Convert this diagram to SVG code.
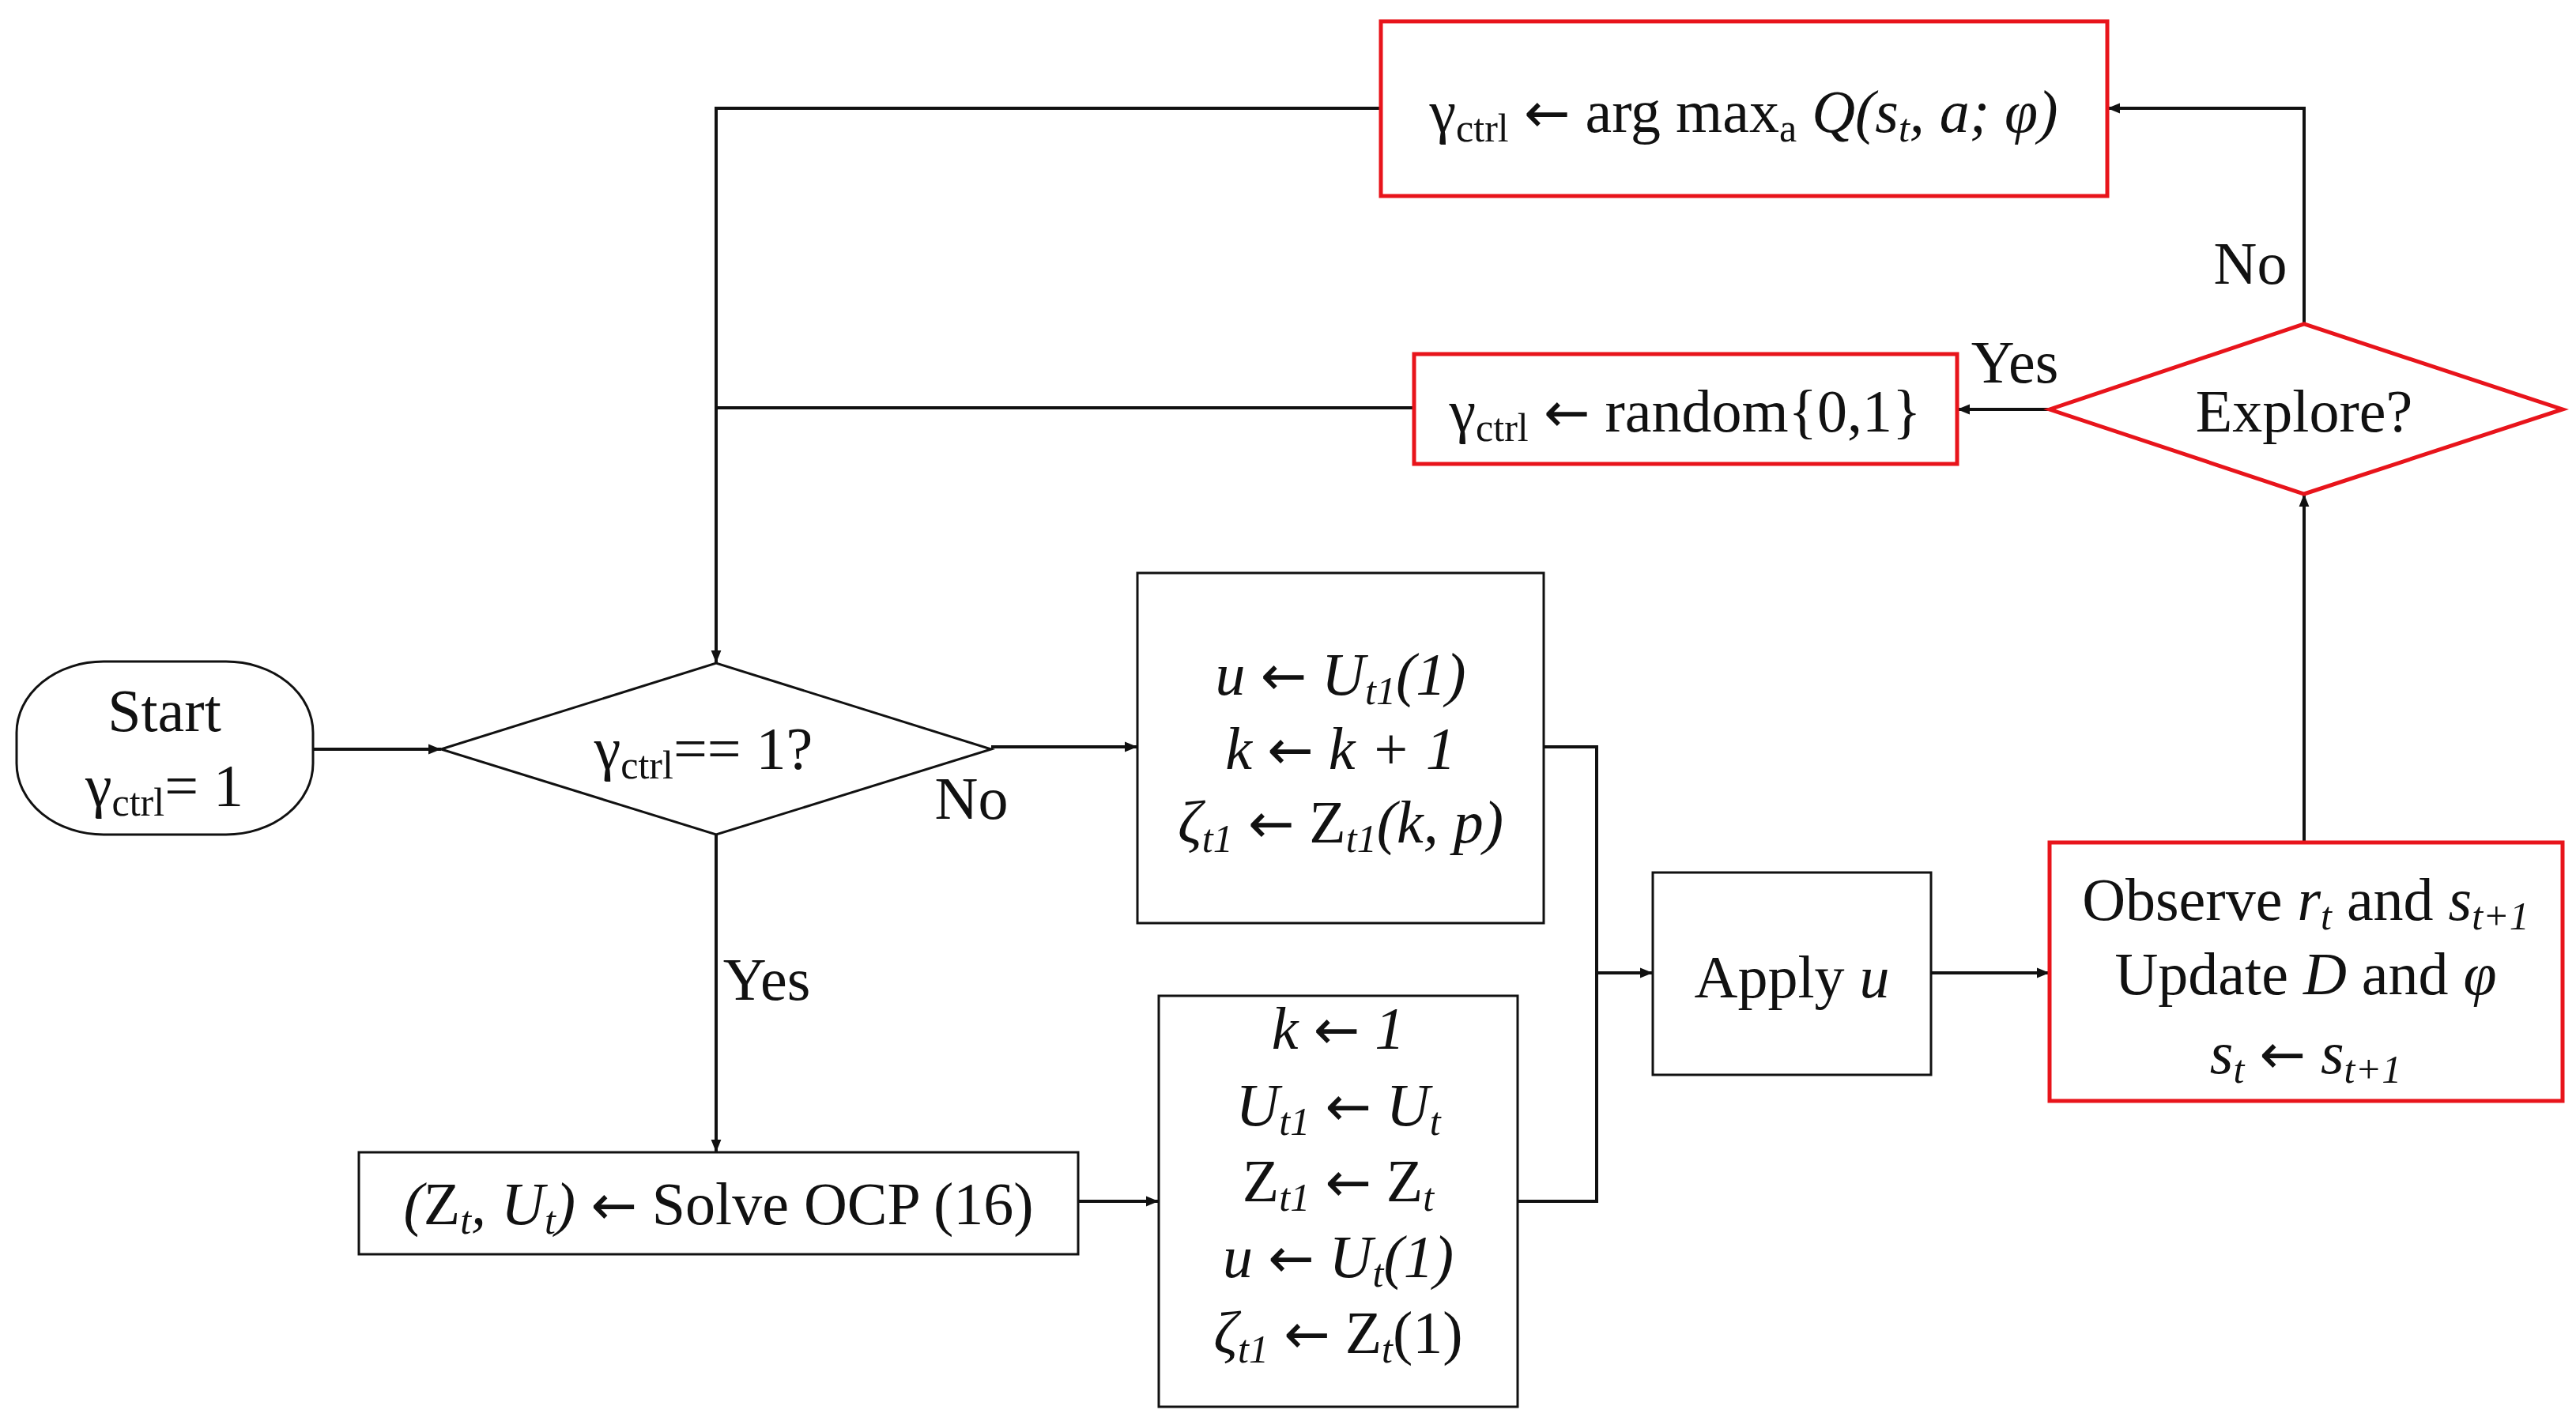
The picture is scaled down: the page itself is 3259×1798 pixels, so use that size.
<svg xmlns="http://www.w3.org/2000/svg" width="3259" height="1798" viewBox="0 0 3259 1798">
<style>
text{font-family:"Liberation Serif","Times New Roman",serif;font-size:76px;fill:#111;text-anchor:middle}
.i{font-style:italic}
.s{font-size:50px}
.ar{font-family:"DejaVu Sans",sans-serif;font-style:normal;font-size:70px}
.b{fill:#fff;stroke:#111;stroke-width:3}
.r{fill:#fff;stroke:#e8141b;stroke-width:5}
.c{fill:none;stroke:#111;stroke-width:4}
</style>
<defs><marker id="a" viewBox="0 0 10 10" refX="10" refY="5" markerWidth="4" markerHeight="4" orient="auto"><path d="M0,1 L10,5 L0,9 z" fill="#111"/></marker></defs>
<g id="connectors">
<path class="c" d="M396,948 H558" marker-end="url(#a)"/>
<path class="c" d="M1254,945 H1439" marker-end="url(#a)"/>
<path class="c" d="M906,1056 V1458" marker-end="url(#a)"/>
<path class="c" d="M1364,1520 H1466" marker-end="url(#a)"/>
<path class="c" d="M1953,945 H2020 V1520 H1920"/>
<path class="c" d="M2020,1231 H2091" marker-end="url(#a)"/>
<path class="c" d="M2443,1231 H2593" marker-end="url(#a)"/>
<path class="c" d="M2915,1066 V625" marker-end="url(#a)"/>
<path class="c" d="M2593,518 H2476" marker-end="url(#a)"/>
<path class="c" d="M2915,410 V137 H2666" marker-end="url(#a)"/>
<path class="c" d="M1747,137 H906 V839" marker-end="url(#a)"/>
<path class="c" d="M1789,516 H906"/>
<text x="1229" y="1036">No</text>
<text x="970" y="1265">Yes</text>
<text x="2847" y="359">No</text>
<text x="2549" y="484">Yes</text>
</g>
<g id="start"><rect class="b" x="21" y="837" width="375" height="219" rx="110" ry="90"/>
<text x="208" y="925">Start</text>
<text x="208" y="1020">γ<tspan class="s" dy="12">ctrl</tspan><tspan dy="-12">= 1</tspan></text></g>
<g id="decision"><polygon class="b" points="558,948 906,839 1254,948 906,1056"/>
<text x="890" y="973">γ<tspan class="s" dy="12">ctrl</tspan><tspan dy="-12">== 1?</tspan></text></g>
<g id="boxA"><rect class="b" x="1439" y="725" width="514" height="443"/>
<text x="1696" y="879"><tspan class="i">u</tspan> <tspan class="ar">←</tspan> <tspan class="i">U<tspan class="s" dy="12">t1</tspan><tspan dy="-12">(1)</tspan></tspan></text>
<text x="1696" y="973" class="i">k <tspan class="ar">←</tspan> k + 1</text>
<text x="1696" y="1066"><tspan class="i">ζ<tspan class="s" dy="12">t1</tspan></tspan><tspan dy="-12"> </tspan><tspan class="ar">←</tspan> Z<tspan class="s i" dy="12">t1</tspan><tspan class="i" dy="-12">(k, p)</tspan></text></g>
<g id="boxB"><rect class="b" x="1466" y="1260" width="454" height="520"/>
<text x="1693" y="1327" class="i">k <tspan class="ar">←</tspan> 1</text>
<text x="1693" y="1424" class="i">U<tspan class="s" dy="12">t1</tspan><tspan dy="-12"> </tspan><tspan class="ar">←</tspan> U<tspan class="s" dy="12">t</tspan></text>
<text x="1693" y="1520">Z<tspan class="s i" dy="12">t1</tspan><tspan dy="-12"> </tspan><tspan class="ar">←</tspan> Z<tspan class="s i" dy="12">t</tspan></text>
<text x="1693" y="1616" class="i">u <tspan class="ar">←</tspan> U<tspan class="s" dy="12">t</tspan><tspan dy="-12">(1)</tspan></text>
<text x="1693" y="1712"><tspan class="i">ζ<tspan class="s" dy="12">t1</tspan></tspan><tspan dy="-12"> </tspan><tspan class="ar">←</tspan> Z<tspan class="s i" dy="12">t</tspan><tspan dy="-12">(1)</tspan></text></g>
<g id="ocp"><rect class="b" x="454" y="1458" width="910" height="129"/>
<text x="909" y="1549"><tspan class="i">(</tspan>Z<tspan class="s i" dy="12">t</tspan><tspan class="i" dy="-12">, U</tspan><tspan class="s i" dy="12">t</tspan><tspan class="i" dy="-12">)</tspan> <tspan class="ar">←</tspan> Solve OCP (16)</text></g>
<g id="apply"><rect class="b" x="2091" y="1104" width="352" height="256"/>
<text x="2267" y="1262">Apply <tspan class="i">u</tspan></text></g>
<g id="observe"><rect class="r" x="2593" y="1066" width="649" height="327"/>
<text x="2917" y="1164">Observe <tspan class="i">r<tspan class="s" dy="12">t</tspan></tspan><tspan dy="-12"> and </tspan><tspan class="i">s<tspan class="s" dy="12">t+1</tspan></tspan></text>
<text x="2917" y="1258">Update <tspan class="i">D</tspan> and <tspan class="i">φ</tspan></text>
<text x="2917" y="1358" class="i">s<tspan class="s" dy="12">t</tspan><tspan dy="-12"> </tspan><tspan class="ar">←</tspan> s<tspan class="s" dy="12">t+1</tspan></text></g>
<g id="explore"><polygon class="r" points="2593,518 2915,410 3242,518 2915,625"/>
<text x="2915" y="546">Explore?</text></g>
<g id="random"><rect class="r" x="1789" y="448" width="687" height="139"/>
<text x="2132" y="546">γ<tspan class="s" dy="12">ctrl</tspan><tspan dy="-12"> </tspan><tspan class="ar">←</tspan> random{0,1}</text></g>
<g id="argmax"><rect class="r" x="1747" y="27" width="919" height="221"/>
<text x="2206" y="167">γ<tspan class="s" dy="12">ctrl</tspan><tspan dy="-12"> </tspan><tspan class="ar">←</tspan> arg max<tspan class="s" dy="12">a</tspan><tspan dy="-12"> </tspan><tspan class="i">Q(s<tspan class="s" dy="12">t</tspan><tspan dy="-12">, a; φ)</tspan></tspan></text></g>
</svg>
